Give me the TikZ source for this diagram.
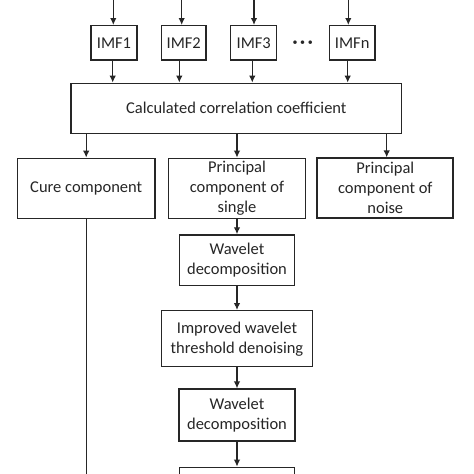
\documentclass[tikz,border=0pt]{standalone}
\usepackage{fontspec}
\setmainfont{Carlito}
\usetikzlibrary{arrows.meta}
\begin{document}
\begin{tikzpicture}[x=1pt,y=-1pt,
  box/.style={draw=black!85,line width=1.3pt,align=center,inner sep=1pt,
    font=\fontsize{16.5}{20}\selectfont,text=black!85},
  thick box/.style={box,line width=1.8pt},
  arr/.style={draw=black!85,line width=1.3pt,-{Latex[length=7pt,width=6.5pt]}},
  ln/.style={draw=black!85,line width=1.3pt}]
\clip (0,0) rectangle (474,474);
\fill[white] (0,0) rectangle (474,474);
% IMF row
\node[box,minimum width=46pt,minimum height=34.3pt] (i1) at (114,42.8) {IMF1};
\node[box,minimum width=44.7pt,minimum height=34.3pt] (i2) at (183.7,42.8) {IMF2};
\node[box,minimum width=46pt,minimum height=34.3pt] (i3) at (253.7,42.8) {IMF3};
\node[box,minimum width=45.7pt,minimum height=34.3pt] (in) at (352.2,42.8) {IMFn};
\node[font=\fontsize{10}{10}\selectfont,text=black!85,inner sep=0pt] (dots) at (302.7,43.5) {\textbullet\hspace{2.6pt}\textbullet\hspace{2.6pt}\textbullet};
% top free ends
\coordinate (t1) at (113.3,0);
\coordinate (t2) at (181.7,0);
\coordinate (t3) at (254,0);
\coordinate (tn) at (348.3,0);
\draw[arr] (t1) -- (t1 |- i1.north);
\draw[arr] (t2) -- (t2 |- i2.north);
\draw[arr] (t3) -- (t3 |- i3.north);
\draw[arr] (tn) -- (tn |- in.north);
% correlation
\node[box,minimum width=330.7pt,minimum height=50pt] (corr) at (236.3,108.3) {Calculated correlation coefficient};
\draw[arr] ([xshift=-1.3pt]i1.south) -- ([xshift=-1.3pt]i1.south |- corr.north);
\draw[arr] ([xshift=-4.4pt]i2.south) -- ([xshift=-4.4pt]i2.south |- corr.north);
\draw[arr] ([xshift=-1.4pt]i3.south) -- ([xshift=-1.4pt]i3.south |- corr.north);
\draw[arr] ([xshift=-4.5pt]in.south) -- ([xshift=-4.5pt]in.south |- corr.north);
% second row
\node[box,minimum width=137.7pt,minimum height=60pt] (cure) at (86.2,188.3) {Cure component};
\node[box,minimum width=137.4pt,minimum height=60pt] (single) at (237,188.3) {Principal\\component of\\single};
\node[thick box,minimum width=136pt,minimum height=60pt] (noise) at (385.3,188.3) {Principal\\component of\\noise};
\draw[arr] (corr.south -| cure) -- (cure.north);
\draw[arr] (corr.south -| single) -- (single.north);
\draw[arr] ([xshift=1.4pt]corr.south -| noise) -- ([xshift=1.4pt]noise.north);
% chain
\node[box,minimum width=115.4pt,minimum height=50.7pt] (wd1) at (237,260.3) {Wavelet\\decomposition};
\node[box,minimum width=151.4pt,minimum height=56pt] (imp) at (237,338.7) {Improved wavelet\\threshold denoising};
\node[thick box,minimum width=115.4pt,minimum height=51.4pt] (wd2) at (237,415) {Wavelet\\decomposition};
\node[box,minimum width=115.4pt,minimum height=50pt] (nx) at (237,492.3) {};
\draw[arr] (single) -- (wd1);
\draw[arr] (wd1) -- (imp);
\draw[arr] (imp) -- (wd2);
\draw[arr] (wd2) -- (nx);
% cure line down
\coordinate (cb) at (86.2,474);
\draw[ln] (cure.south) -- (cure.south |- cb);
\end{tikzpicture}
\end{document}
